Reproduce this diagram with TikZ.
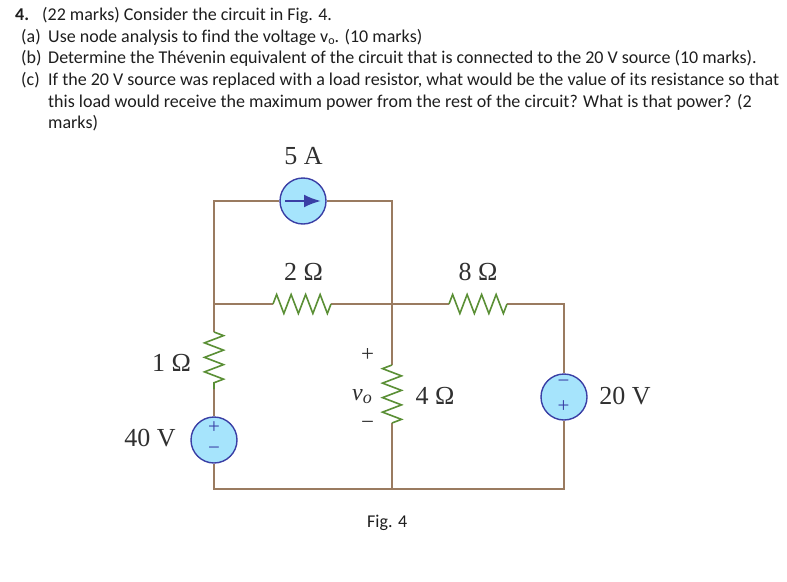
\documentclass[tikz,border=0pt]{standalone}
\usepackage{fontspec}
\setmainfont[Ligatures=NoCommon]{Carlito}
\newfontfamily\cirfont{Liberation Serif}
\usetikzlibrary{decorations.pathmorphing,arrows.meta}
\definecolor{wirec}{HTML}{9A7B60}
\definecolor{resc}{HTML}{5A8F35}
\definecolor{srcfill}{HTML}{A6E4FC}
\definecolor{srcline}{HTML}{3A3FA5}
\definecolor{textc}{HTML}{1E1E1E}
\definecolor{labelc}{HTML}{303030}
\tikzset{
  wire/.style={draw=wirec,line width=1.8pt},
  res/.style={draw=resc,line width=1.6pt,decorate,decoration={zigzag,segment length=14.5pt,amplitude=9.5pt}},
  resflip/.style={draw=resc,line width=1.6pt,decorate,decoration={zigzag,segment length=14.5pt,amplitude=-9.5pt}},
  source/.style={circle,draw=srcline,fill=srcfill,line width=1.4pt,minimum size=46pt,inner sep=0pt},
  body/.style={anchor=base west,inner sep=0pt,text=textc,font=\fontsize{18}{21}\selectfont},
  lab/.style={inner sep=0pt,text=labelc,font=\cirfont\fontsize{26}{30}\selectfont},
  sign/.style={inner sep=0pt,text=srcline,font=\cirfont\fontsize{21}{23}\selectfont},
  pol/.style={inner sep=0pt,text=labelc,font=\cirfont\fontsize{23}{26}\selectfont}
}
\begin{document}
\begin{tikzpicture}[x=1pt,y=-1pt]
\useasboundingbox[fill=white] (0,0) rectangle (787,581);
% text
\node[body,font=\fontsize{18}{21}\selectfont\bfseries] (n4) at (15,20) {4.};
\node[body] (t1) at (42,20) {(22 marks) Consider the circuit in Fig. 4.};
\node[body] (la) at (21,42) {(a)};
\node[body] (ta) at (48,42) {Use node analysis to find the voltage v\raisebox{-2pt}{\fontsize{12}{13}\selectfont o}. (10 marks)};
\node[body] (lb) at (21,63.5) {(b)};
\node[body] (tb) at (48,63.5) {Determine the Thévenin equivalent of the circuit that is connected to the 20 V source (10 marks).};
\node[body] (lc) at (21,85) {(c)};
\node[body] (tc) at (48,85) {If the 20 V source was replaced with a load resistor, what would be the value of its resistance so that};
\node[body] (td) at (48,107) {this load would receive the maximum power from the rest of the circuit? What is that power? (2};
\node[body] (te) at (48,128) {marks)};
\node[body] (fig) at (367,527) {Fig. 4};
% junctions
\coordinate (tl) at (214,201);
\coordinate (tr) at (392,201);
\coordinate (ml) at (214,304);
\coordinate (mm) at (392,304);
\coordinate (mr) at (564,304);
\coordinate (bl) at (214,489);
\coordinate (bm) at (392,489);
\coordinate (br) at (564,489);
\coordinate (r1a) at (214,332);
\coordinate (r1b) at (214,389);
\coordinate (r2a) at (273,304);
\coordinate (r2b) at (331,304);
\coordinate (r8a) at (449,304);
\coordinate (r8b) at (507,304);
\coordinate (r4a) at (392,365);
\coordinate (r4b) at (392,423);
% sources
\node[source] (cs) at (303,201) {};
\node[source] (v40) at (214,440) {};
\node[source] (v20) at (564,397) {};
% wires
\draw[wire] (cs) -- (tl) -- (bl |- r1a) -- (r1a);
\draw[wire] (cs) -- (tr) -- (bm |- r4a) -- (r4a);
\draw[wire] (ml) -- (r2a);
\draw[wire] (r2b) -- (r8a);
\draw[wire] (r8b) -- (mr) -- (v20);
\draw[wire] (r1b) -- (v40);
\draw[wire] (v40) -- (bl) -- (br) -- (v20);
\draw[wire] (r4b) -- (bm);
% resistors
\draw[res] (r1a) -- (r1b);
\draw[res] (r2a) -- (r2b);
\draw[res] (r8a) -- (r8b);
\draw[resflip] (r4a) -- (r4b);
% current arrow
\draw[draw=srcline,line width=2.4pt,-{Latex[length=17pt,width=13pt]}] ([xshift=-18pt]cs.center) -- ([xshift=18pt]cs.center);
% source signs
\node[sign] (p40) at (214,427.5) {+};
\node[sign] (m40) at (214,450.5) {−};
\node[sign] (m20) at (563.5,383.5) {−};
\node[sign] (p20) at (563.5,406.5) {+};
% labels
\node[lab] (l5a) at (303.5,156) {5 A};
\node[lab] (l2) at (303.5,272) {2 Ω};
\node[lab] (l8) at (478,272) {8 Ω};
\node[lab] (l1) at (171.5,363) {1 Ω};
\node[lab] (l4) at (435,396) {4 Ω};
\node[lab] (l40) at (150,438) {40 V};
\node[lab] (l20) at (625,396) {20 V};
\node[pol] (vp) at (367.5,355) {+};
\node[pol] (vm) at (367.5,425.5) {−};
\node[lab,font=\cirfont\fontsize{24}{28}\selectfont] (vo) at (362,397) {\itshape v\raisebox{-3pt}{\fontsize{18}{20}\selectfont o}};
\end{tikzpicture}
\end{document}
